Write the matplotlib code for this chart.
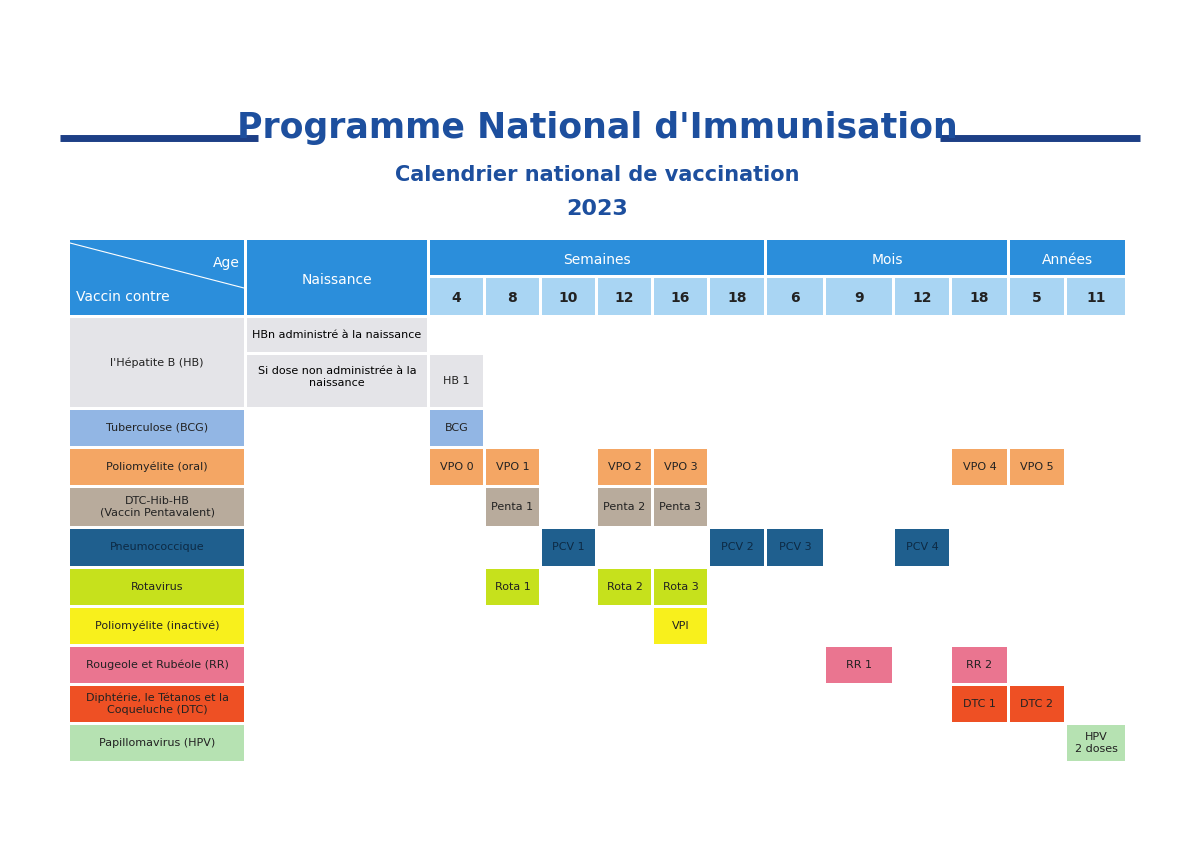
import matplotlib.pyplot as plt
from matplotlib.patches import Rectangle

# column headers (index 0 = Naissance)
col_labels = ['Naissance', '4', '8', '10', '12', '16', '18', '6', '9', '12', '18', '5', '11']
groups = [('Semaines', 1, 6), ('Mois', 7, 10), ('Années', 11, 12)]

vaccines = ["l'Hépatite B (HB)", 'Tuberculose (BCG)', 'Poliomyélite (oral)',
            'DTC-Hib-HB\n(Vaccin Pentavalent)', 'Pneumococcique', 'Rotavirus',
            'Poliomyélite (inactivé)', 'Rougeole et Rubéole (RR)',
            'Diphtérie, le Tétanos et la\nCoqueluche (DTC)', 'Papillomavirus (HPV)']
colors = ['#e4e4e8', '#92b6e4', '#f4a664', '#b8ab9c', '#1f5f8e', '#c6e11c',
          '#f8f01c', '#ea7590', '#ee5024', '#b6e2b2']
text_colors = ['#222', '#222', '#222', '#222', '#0d2a44', '#222', '#222', '#222', '#222', '#222']
doses = [
    [(1, 'HB 1')],
    [(1, 'BCG')],
    [(1, 'VPO 0'), (2, 'VPO 1'), (4, 'VPO 2'), (5, 'VPO 3'), (10, 'VPO 4'), (11, 'VPO 5')],
    [(2, 'Penta 1'), (4, 'Penta 2'), (5, 'Penta 3')],
    [(3, 'PCV 1'), (6, 'PCV 2'), (7, 'PCV 3'), (9, 'PCV 4')],
    [(2, 'Rota 1'), (4, 'Rota 2'), (5, 'Rota 3')],
    [(5, 'VPI')],
    [(8, 'RR 1'), (10, 'RR 2')],
    [(10, 'DTC 1'), (11, 'DTC 2')],
    [(12, 'HPV\n2 doses')],
]

# layout (pixels)
col_edges = [247, 430, 486, 542, 598, 654, 710, 767, 826, 895, 952, 1010, 1067, 1128]
row_edges = [318, 410, 449, 488, 529, 569, 608, 647, 686, 725, 764]
label_x0 = 70
gap = 3

fig = plt.figure(figsize=(12, 8.48), dpi=100)
ax = fig.add_axes([0, 0, 1, 1])
ax.set_xlim(0, 1200)
ax.set_ylim(848, 0)
ax.axis('off')

title_c = '#1d4f9e'
ax.text(597, 128, "Programme National d'Immunisation", ha='center', va='center',
        fontsize=25, fontweight='bold', color=title_c)
ax.text(597, 175, 'Calendrier national de vaccination', ha='center', va='center',
        fontsize=15, fontweight='bold', color=title_c)
ax.text(597, 209, '2023', ha='center', va='center', fontsize=16, fontweight='bold', color=title_c)
for x0, x1 in [(60, 258), (940, 1140)]:
    ax.plot([x0, x1], [138, 138], color='#1d3f86', lw=5, solid_capstyle='butt')


def cell(x0, x1, y0, y1, fc):
    ax.add_patch(Rectangle((x0, y0), x1 - x0 - gap, y1 - y0 - gap, fc=fc, ec='none'))


hdr = '#2b8edb'
sub = '#a9d5f3'
# header
cell(label_x0, col_edges[0], 240, 318, hdr)
ax.plot([label_x0, col_edges[0] - gap], [243, 288], color='white', lw=0.8)
ax.text(240, 263, 'Age', ha='right', va='center', color='white', fontsize=10)
ax.text(76, 297, 'Vaccin contre', ha='left', va='center', color='white', fontsize=10)
cell(col_edges[0], col_edges[1], 240, 318, hdr)
ax.text((col_edges[0] + col_edges[1] - gap) / 2, 280, col_labels[0], ha='center', va='center',
        color='white', fontsize=10)
for name, a, b in groups:
    cell(col_edges[a], col_edges[b + 1], 240, 278, hdr)
    ax.text((col_edges[a] + col_edges[b + 1] - gap) / 2, 260, name, ha='center', va='center',
            color='white', fontsize=10)
for i in range(1, len(col_labels)):
    cell(col_edges[i], col_edges[i + 1], 278, 318, sub)
    ax.text((col_edges[i] + col_edges[i + 1] - gap) / 2, 298, col_labels[i], ha='center',
            va='center', color='#222', fontsize=10, fontweight='bold')

# rows
for r, (name, fc) in enumerate(zip(vaccines, colors)):
    y0, y1 = row_edges[r], row_edges[r + 1]
    cell(label_x0, col_edges[0], y0, y1, fc)
    ax.text((label_x0 + col_edges[0] - gap) / 2, (y0 + y1 - gap) / 2, name, ha='center',
            va='center', fontsize=8, color=text_colors[r], linespacing=1.2)
    if r == 0:
        cell(col_edges[0], col_edges[1], y0, 355, fc)
        ax.text(col_edges[0] + 90, 335, 'HBn administré à la naissance', ha='center',
                va='center', fontsize=8)
        cell(col_edges[0], col_edges[1], 355, y1, fc)
        ax.text(col_edges[0] + 90, 377, 'Si dose non administrée à la\nnaissance',
                ha='center', va='center', fontsize=8)
        yy0 = 355
    else:
        yy0 = y0
    for c, txt in doses[r]:
        cell(col_edges[c], col_edges[c + 1], yy0, y1, fc)
        ax.text((col_edges[c] + col_edges[c + 1] - gap) / 2, (yy0 + y1 - gap) / 2, txt,
                ha='center', va='center', fontsize=8, color=text_colors[r], linespacing=1.2)

fig.savefig('out.png', dpi=100)
